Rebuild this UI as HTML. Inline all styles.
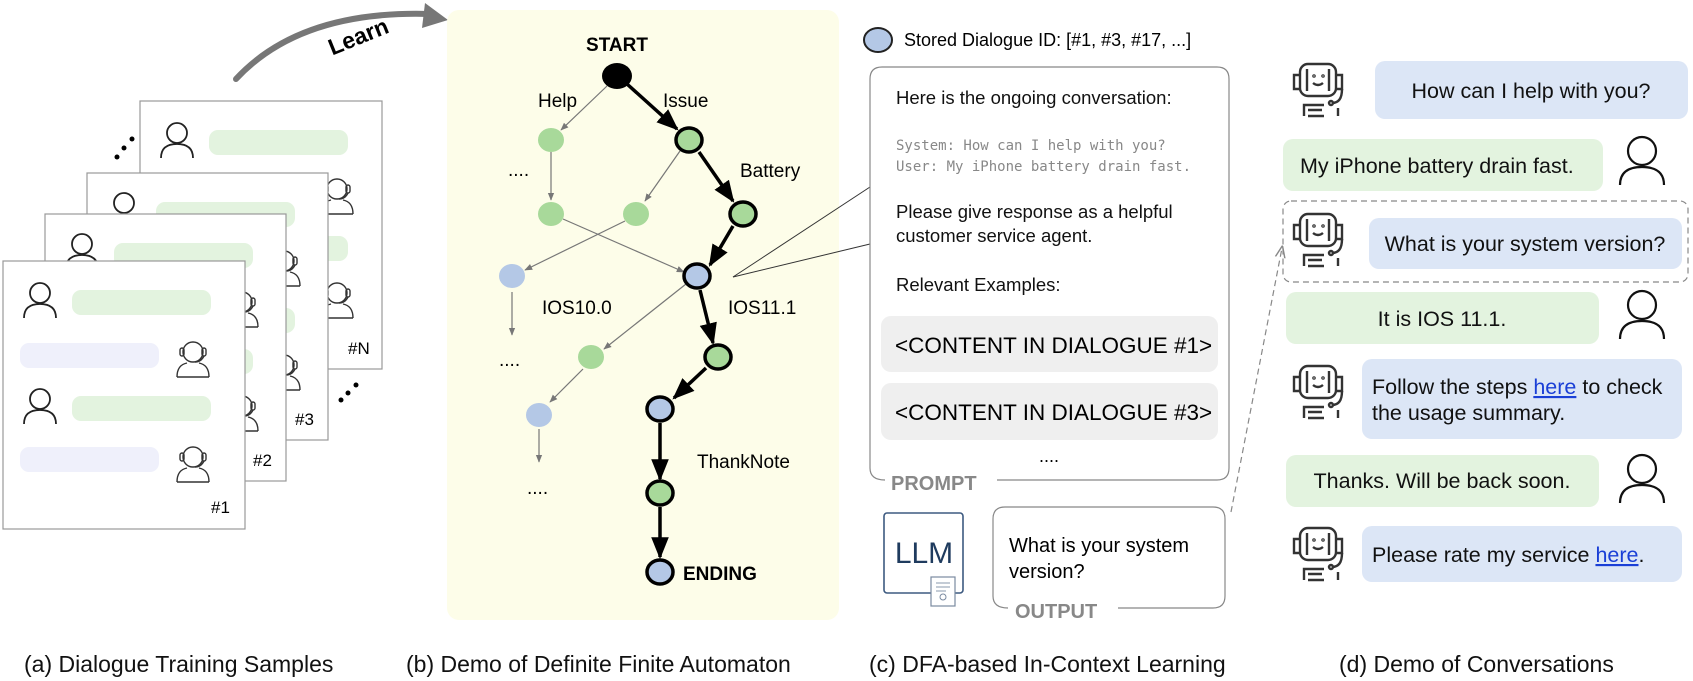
<!DOCTYPE html>
<html><head><meta charset="utf-8"><style>
html,body{margin:0;padding:0;background:#fff;}
svg{display:block;font-family:"Liberation Sans",Arial,sans-serif;}
</style></head><body>
<svg width="1693" height="681" viewBox="0 0 1693 681" xmlns="http://www.w3.org/2000/svg">
<defs>
<marker id="ah" viewBox="0 0 10 10" refX="9" refY="5" markerWidth="8" markerHeight="8" orient="auto" markerUnits="userSpaceOnUse"><path d="M0,1 L10,5 L0,9 z" fill="#777"/></marker>
<marker id="ahb" viewBox="0 0 10 10" refX="9" refY="5" markerWidth="22" markerHeight="22" orient="auto" markerUnits="userSpaceOnUse"><path d="M0,1 L10,5 L0,9 z" fill="#000"/></marker>
<marker id="ahg" viewBox="0 0 10 10" refX="8" refY="5" markerWidth="12" markerHeight="12" orient="auto" markerUnits="userSpaceOnUse"><path d="M0,1 L10,5 L0,9" fill="none" stroke="#888" stroke-width="1.2"/></marker>
<g id="user"><circle cx="0" cy="-8" r="10" fill="none" stroke="#222" stroke-width="1.8"/><path d="M-16,17 Q-16,3 0,3 Q16,3 16,17" fill="none" stroke="#222" stroke-width="1.8"/></g>
<g id="userb"><circle cx="0" cy="-11" r="14" fill="none" stroke="#111" stroke-width="2.2"/><path d="M-22,23 Q-22,5 0,5 Q22,5 22,23" fill="none" stroke="#111" stroke-width="2.2"/></g>
<g id="agent" fill="none" stroke="#333" stroke-width="1.4"><circle cx="0" cy="-8" r="10"/><rect x="-13" y="-12" width="4" height="8" rx="2"/><rect x="9" y="-12" width="4" height="8" rx="2"/><path d="M11,-4 Q8,2 2,2"/><path d="M-16,17 Q-16,5 -6,3 M16,17 Q16,5 6,3 M-16,17 H16"/></g>
<g id="bot" fill="none" stroke="#333" stroke-width="2.4"><rect x="-18" y="-27" width="36" height="32" rx="8"/><path d="M-11,-22 V0 M11,-22 V0"/><path d="M-18,-16 h-6 v14 h6 M18,-16 h6 v14 h-6"/><circle cx="-4" cy="-15" r="0.6"/><circle cx="5" cy="-15" r="0.6"/><path d="M-5,-8 Q0,-4 5,-8"/><path d="M24,-2 Q24,12 14,12"/><circle cx="13" cy="12" r="2"/><path d="M-14,25 V14 H6 M-10,19 H4 M-10,25 H6 M20,17 V25"/></g>
</defs>

<!-- Learn arrow -->
<path d="M236,79 Q300,10 430,14" fill="none" stroke="#777" stroke-width="6" stroke-linecap="round"/>
<path d="M425,3 L448,20 L422,28 z" fill="#777"/>
<text x="330" y="56" font-size="23" font-weight="bold" transform="rotate(-22 330 50)">Learn</text>

<!-- cards -->
<g id="cards">
<g transform="translate(140,101)"><rect x="0" y="0" width="242" height="268" fill="#fff" stroke="#999" stroke-width="1.2"/><use href="#user" x="37" y="40"/><rect x="69" y="29" width="139" height="25" rx="9" fill="#e3f3df"/><use href="#agent" x="197" y="96"/><rect x="69" y="135" width="139" height="25" rx="9" fill="#e3f3df"/><use href="#agent" x="197" y="200"/><text x="208" y="253" font-size="17">#N</text></g>
<g transform="translate(87,173)"><rect x="0" y="0" width="241" height="267" fill="#fff" stroke="#999" stroke-width="1.2"/><use href="#user" x="37" y="38"/><rect x="69" y="29" width="139" height="25" rx="9" fill="#e3f3df"/><use href="#agent" x="197" y="96"/><rect x="69" y="135" width="139" height="25" rx="9" fill="#e3f3df"/><use href="#agent" x="197" y="200"/><text x="208" y="252" font-size="17">#3</text></g>
<g transform="translate(45,214)"><rect x="0" y="0" width="241" height="267" fill="#fff" stroke="#999" stroke-width="1.2"/><use href="#user" x="37" y="38"/><rect x="69" y="29" width="139" height="25" rx="9" fill="#e3f3df"/><use href="#agent" x="197" y="96"/><rect x="69" y="135" width="139" height="25" rx="9" fill="#e3f3df"/><use href="#agent" x="197" y="200"/><text x="208" y="252" font-size="17">#2</text></g>
<g transform="translate(3,261)"><rect x="0" y="0" width="242" height="268" fill="#fff" stroke="#999" stroke-width="1.2"/><use href="#user" x="37" y="40"/><rect x="69" y="29" width="139" height="25" rx="9" fill="#e3f3df"/><rect x="17" y="82" width="139" height="25" rx="9" fill="#eff0fb"/><use href="#agent" x="190" y="99"/><use href="#user" x="37" y="146"/><rect x="69" y="135" width="139" height="25" rx="9" fill="#e3f3df"/><rect x="17" y="186" width="139" height="25" rx="9" fill="#eff0fb"/><use href="#agent" x="190" y="204"/><text x="208" y="252" font-size="17">#1</text></g>
</g>
<g fill="#000"><circle cx="117" cy="157" r="2.5"/><circle cx="124" cy="148" r="2.5"/><circle cx="132" cy="139" r="2.5"/><circle cx="341" cy="400" r="2.5"/><circle cx="348" cy="393" r="2.5"/><circle cx="356" cy="385" r="2.5"/></g>

<!-- panel b -->
<rect x="447" y="10" width="392" height="610" rx="12" fill="#fdfde9"/>
<g stroke="#777" stroke-width="1.2" fill="none" marker-end="url(#ah)">
<line x1="607" y1="86" x2="561" y2="130"/>
<line x1="551" y1="152" x2="551" y2="200"/>
<line x1="680" y1="151" x2="645" y2="201"/>
<line x1="563" y1="219" x2="684" y2="272"/>
<line x1="625" y1="221" x2="525" y2="270"/>
<line x1="512" y1="292" x2="512" y2="335"/>
<line x1="686" y1="284" x2="604" y2="349"/>
<line x1="583" y1="369" x2="550" y2="402"/>
<line x1="539" y1="429" x2="539" y2="462"/>
</g>
<g stroke="#000" stroke-width="3.5" fill="none" marker-end="url(#ahb)">
<line x1="627" y1="84" x2="677" y2="129"/>
<line x1="699" y1="152" x2="733" y2="201"/>
<line x1="733" y1="226" x2="710" y2="265"/>
<line x1="700" y1="290" x2="713" y2="343"/>
<line x1="706" y1="368" x2="674" y2="398"/>
<line x1="660" y1="423" x2="660" y2="479"/>
<line x1="660" y1="507" x2="660" y2="557"/>
</g>
<ellipse cx="617" cy="76" rx="15" ry="13" fill="#000"/>
<g fill="#a8d99a"><ellipse cx="551" cy="140" rx="13" ry="12"/><ellipse cx="551" cy="214" rx="13" ry="12"/><ellipse cx="636" cy="214" rx="13" ry="12"/><ellipse cx="591" cy="357" rx="13" ry="12"/></g>
<g fill="#b4c8e6"><ellipse cx="512" cy="276" rx="13" ry="12"/><ellipse cx="539" cy="415" rx="13" ry="12"/></g>
<g stroke="#000" stroke-width="3.5"><ellipse cx="689" cy="140" rx="13" ry="12" fill="#a8d99a"/><ellipse cx="743" cy="214" rx="13" ry="12" fill="#a8d99a"/><ellipse cx="697" cy="276" rx="13" ry="12" fill="#b4c8e6"/><ellipse cx="718" cy="357" rx="13" ry="12" fill="#a8d99a"/><ellipse cx="660" cy="409" rx="13" ry="12" fill="#b4c8e6"/><ellipse cx="660" cy="493" rx="13" ry="12" fill="#a8d99a"/><ellipse cx="660" cy="572" rx="13" ry="12" fill="#b4c8e6"/></g>
<g font-size="19" fill="#000">
<text x="617" y="51" text-anchor="middle" font-weight="bold">START</text>
<text x="538" y="107">Help</text>
<text x="663" y="107">Issue</text>
<text x="740" y="177">Battery</text>
<text x="542" y="314">IOS10.0</text>
<text x="728" y="314">IOS11.1</text>
<text x="697" y="468">ThankNote</text>
<text x="683" y="580" font-weight="bold">ENDING</text>
<text x="508" y="176">....</text>
<text x="499" y="366">....</text>
<text x="527" y="494">....</text>
</g>

<!-- panel c -->
<line x1="733" y1="277" x2="870" y2="187" stroke="#333" stroke-width="1"/>
<line x1="733" y1="277" x2="870" y2="244" stroke="#333" stroke-width="1"/>
<ellipse cx="878" cy="40" rx="14" ry="12" fill="#b4c8e6" stroke="#222" stroke-width="2"/>
<text x="904" y="46" font-size="18">Stored Dialogue ID: [#1, #3, #17, ...]</text>
<path d="M885,480 Q870,480 870,468 V79 Q870,67 882,67 H1217 Q1229,67 1229,79 V468 Q1229,480 1217,480 H997" fill="none" stroke="#888" stroke-width="1.2"/>
<text x="891" y="490" font-size="20" font-weight="bold" fill="#888">PROMPT</text>
<g font-size="18.5" fill="#111">
<text x="896" y="104">Here is the ongoing conversation:</text>
<text x="896" y="218">Please give response as a helpful</text>
<text x="896" y="242">customer service agent.</text>
<text x="896" y="291">Relevant Examples:</text>
</g>
<g font-family="'DejaVu Sans Mono','Liberation Mono',monospace" font-size="14" fill="#888">
<text x="896" y="150">System: How can I help with you?</text>
<text x="896" y="171">User: My iPhone battery drain fast.</text>
</g>
<rect x="881" y="316" width="337" height="56" rx="10" fill="#efefef"/>
<rect x="881" y="383" width="337" height="57" rx="10" fill="#efefef"/>
<text x="895" y="353" font-size="22.5">&lt;CONTENT IN DIALOGUE #1&gt;</text>
<text x="895" y="420" font-size="22.5">&lt;CONTENT IN DIALOGUE #3&gt;</text>
<text x="1049" y="462" font-size="18" text-anchor="middle">....</text>
<rect x="884" y="513" width="79" height="80" rx="3" fill="#fff" stroke="#3d5a80" stroke-width="1.6"/>
<text x="924" y="563" font-size="30" text-anchor="middle" fill="#1f3b5e">LLM</text>
<rect x="931" y="577" width="24" height="29" fill="#fff" stroke="#7a8aa0" stroke-width="1.2"/>
<path d="M936,583 h14 M936,587 h14 M936,591 h10" stroke="#8a99ad" stroke-width="1"/>
<circle cx="943" cy="597" r="3" fill="none" stroke="#7a8aa0"/>
<path d="M1008,608 Q993,608 993,596 V519 Q993,507 1005,507 H1213 Q1225,507 1225,519 V596 Q1225,608 1213,608 H1118" fill="none" stroke="#888" stroke-width="1.2"/>
<text x="1015" y="618" font-size="20" font-weight="bold" fill="#888">OUTPUT</text>
<text x="1009" y="552" font-size="20">What is your system</text>
<text x="1009" y="578" font-size="20">version?</text>
<line x1="1231" y1="512" x2="1282" y2="248" stroke="#888" stroke-width="1.2" stroke-dasharray="6,4" marker-end="url(#ahg)"/>

<!-- panel d -->
<g font-size="21.5" fill="#111">
<rect x="1375" y="61" width="313" height="58" rx="10" fill="#dce6f6"/>
<text x="1531" y="98" text-anchor="middle">How can I help with you?</text>
<use href="#bot" x="1318" y="91"/>
<rect x="1283" y="139" width="320" height="52" rx="10" fill="#e3f3df"/>
<text x="1300" y="173">My iPhone battery drain fast.</text>
<use href="#userb" x="1642" y="162"/>
<rect x="1283" y="201" width="405" height="81" rx="8" fill="none" stroke="#888" stroke-width="1.2" stroke-dasharray="6,4"/>
<use href="#bot" x="1318" y="241"/>
<rect x="1369" y="218" width="313" height="51" rx="10" fill="#dce6f6"/>
<text x="1525" y="251" text-anchor="middle">What is your system version?</text>
<rect x="1286" y="292" width="313" height="52" rx="10" fill="#e3f3df"/>
<text x="1442" y="326" text-anchor="middle">It is IOS 11.1.</text>
<use href="#userb" x="1642" y="316"/>
<use href="#bot" x="1318" y="393"/>
<rect x="1362" y="359" width="320" height="80" rx="10" fill="#dce6f6"/>
<text x="1372" y="394">Follow the steps <tspan fill="#1a3fd6" text-decoration="underline">here</tspan> to check</text>
<text x="1372" y="420">the usage summary.</text>
<rect x="1286" y="455" width="313" height="52" rx="10" fill="#e3f3df"/>
<text x="1442" y="488" text-anchor="middle">Thanks. Will be back soon.</text>
<use href="#userb" x="1642" y="480"/>
<use href="#bot" x="1318" y="555"/>
<rect x="1362" y="526" width="320" height="56" rx="10" fill="#dce6f6"/>
<text x="1372" y="562">Please rate my service <tspan fill="#1a3fd6" text-decoration="underline">here</tspan>.</text>
</g>

<!-- captions -->
<g font-size="23" fill="#111">
<text x="24" y="672">(a) Dialogue Training Samples</text>
<text x="406" y="672">(b) Demo of Definite Finite Automaton</text>
<text x="869" y="672">(c) DFA-based In-Context Learning</text>
<text x="1339" y="672">(d) Demo of Conversations</text>
</g>
</svg>
</body></html>
